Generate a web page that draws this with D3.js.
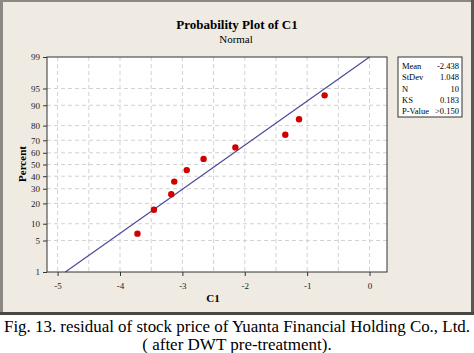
<!DOCTYPE html>
<html>
<head>
<meta charset="utf-8">
<script src="https://cdn.jsdelivr.net/npm/d3@7"></script>
<style>
body { margin: 0; background: #fff; }
svg { display: block; }
</style>
</head>
<body>
<svg id="chart" width="474" height="353"></svg>
<script>
// data
const c1Values = [-3.72, -3.456, -3.178, -3.13, -2.93, -2.66, -2.15, -1.35, -1.13, -0.72]
const percentTicks = [1, 5, 10, 20, 30, 40, 50, 60, 70, 80, 90, 95, 99]
const xTicks = [-5, -4, -3, -2, -1, 0]
const statLabels = ["Mean", "StDev", "N", "KS", "P-Value"]
const statValues = ["-2.438", "1.048", "10", "0.183", ">0.150"]
const fitMean = -2.438
const fitSd = 1.048

const width = 474
const height = 353
const margin = {top: 57, left: 47}

// inverse normal cdf (Acklam)
function qnorm(p){
    const a = [-39.69683028665376, 220.9460984245205, -275.9285104469687, 138.3577518672690, -30.66479806614716, 2.506628277459239]
    const b = [-54.47609879822406, 161.5858368580409, -155.6989798598866, 66.80131188771972, -13.28068155288572]
    const c = [-0.007784894002430293, -0.3223964580411365, -2.400758277161838, -2.549732539343734, 4.374664141464968, 2.938163982698783]
    const d = [0.007784695709041462, 0.3224671290700398, 2.445134137142996, 3.754408661907416]
    const pl = 0.02425
    let q, r
    if (p < pl) {
        q = Math.sqrt(-2 * Math.log(p))
        return (((((c[0]*q+c[1])*q+c[2])*q+c[3])*q+c[4])*q+c[5]) / ((((d[0]*q+d[1])*q+d[2])*q+d[3])*q+1)
    } else if (p <= 1 - pl) {
        q = p - 0.5; r = q*q
        return (((((a[0]*r+a[1])*r+a[2])*r+a[3])*r+a[4])*r+a[5])*q / (((((b[0]*r+b[1])*r+b[2])*r+b[3])*r+b[4])*r+1)
    } else {
        q = Math.sqrt(-2 * Math.log(1 - p))
        return -(((((c[0]*q+c[1])*q+c[2])*q+c[3])*q+c[4])*q+c[5]) / ((((d[0]*q+d[1])*q+d[2])*q+d[3])*q+1)
    }
}

const n = c1Values.length
const percents = c1Values.map((v, i) => (i + 1 - 0.3) / (n + 0.4) * 100)

const svg = d3.select("#chart")

// panel background + borders
svg.append("rect").attr("x", 0).attr("y", 0).attr("width", width).attr("height", 315).attr("fill", "#efebe2")
svg.append("rect").attr("x", 0).attr("y", 0).attr("width", 3).attr("height", 315).attr("fill", "#8c8884")
svg.append("rect").attr("x", 0).attr("y", 0).attr("width", width).attr("height", 2).attr("fill", "#8c8884")
svg.append("rect").attr("x", 471).attr("y", 0).attr("width", 3).attr("height", 315).attr("fill", "#5a5652")
svg.append("rect").attr("x", 0).attr("y", 312).attr("width", width).attr("height", 3).attr("fill", "#4a4642")

const g = svg.append("g").attr("transform", "translate(" + margin.left + "," + margin.top + ")")

const x = d3.scaleLinear().domain([-5.17, 0.28]).range([0, 340])
const zTop = qnorm(0.99)
const yz = d3.scaleLinear().domain([-zTop, zTop]).range([215, 0])
const y = p => yz(qnorm(p / 100))

g.append("rect").attr("width", 340).attr("height", 215).attr("fill", "#fff")

// grid
g.append("g").selectAll("line")
    .data(d3.range(-5, 0.01, 0.5))
    .enter().append("line")
    .attr("x1", d => x(d)).attr("x2", d => x(d))
    .attr("y1", 0).attr("y2", 215)
    .attr("stroke", "#d2d2d2").attr("stroke-dasharray", "4,3")
g.append("g").selectAll("line")
    .data(percentTicks.slice(1, -1))
    .enter().append("line")
    .attr("x1", 0).attr("x2", 340)
    .attr("y1", d => y(d)).attr("y2", d => y(d))
    .attr("stroke", "#d2d2d2").attr("stroke-dasharray", "4,3")

// fitted line
const pLine = [1, 99]
g.append("line")
    .attr("x1", x(fitMean + qnorm(0.01) * fitSd)).attr("y1", y(pLine[0]))
    .attr("x2", x(fitMean + qnorm(0.99) * fitSd)).attr("y2", y(pLine[1]))
    .attr("stroke", "#4a4a9c").attr("stroke-width", 1.2)

// points
g.append("g").selectAll("circle")
    .data(d3.zip(c1Values, percents))
    .enter().append("circle")
    .attr("cx", d => x(d[0]))
    .attr("cy", d => y(d[1]))
    .attr("r", 3.2)
    .attr("fill", "#d00000")

g.append("rect").attr("width", 340).attr("height", 215).attr("fill", "none").attr("stroke", "#333").attr("stroke-width", 1)

// axes
const xAxis = g.append("g").attr("transform", "translate(0,215)")
    .call(d3.axisBottom(x).tickValues(xTicks).tickSize(4).tickFormat(d => d))
const yAxis = g.append("g")
    .call(d3.axisLeft(yz).tickValues(percentTicks.map(p => qnorm(p / 100))).tickSize(4)
        .tickFormat((d, i) => percentTicks[i]))
;[xAxis, yAxis].forEach(a => {
    a.select(".domain").remove()
    a.selectAll("line").attr("stroke", "#333")
    a.selectAll("text").attr("fill", "#222").style("font-family", "Liberation Serif, serif").style("font-size", "9px")
})
xAxis.selectAll("text").attr("dy", "1.1em")

// titles
svg.append("text").attr("x", 237).attr("y", 29).attr("text-anchor", "middle")
    .style("font-family", "Liberation Serif, serif").style("font-weight", "bold").style("font-size", "13px")
    .text("Probability Plot of C1")
svg.append("text").attr("x", 236).attr("y", 43).attr("text-anchor", "middle")
    .style("font-family", "Liberation Serif, serif").style("font-size", "11px")
    .text("Normal")
svg.append("text").attr("x", 213).attr("y", 302).attr("text-anchor", "middle")
    .style("font-family", "Liberation Serif, serif").style("font-weight", "bold").style("font-size", "11px")
    .text("C1")
svg.append("text").attr("transform", "translate(26,164) rotate(-90)").attr("text-anchor", "middle")
    .style("font-family", "Liberation Serif, serif").style("font-weight", "bold").style("font-size", "11px")
    .text("Percent")

// stats box
const box = svg.append("g").attr("transform", "translate(398,57)")
box.append("rect").attr("width", 64).attr("height", 60).attr("fill", "#fff").attr("stroke", "#333")
statLabels.forEach((lab, i) => {
    box.append("text").attr("x", 4).attr("y", 12 + i * 11.3)
        .style("font-family", "Liberation Serif, serif").style("font-size", "8.5px").text(lab)
    box.append("text").attr("x", 61).attr("y", 12 + i * 11.3).attr("text-anchor", "end")
        .style("font-family", "Liberation Serif, serif").style("font-size", "8.5px").text(statValues[i])
})

// caption
svg.append("text").attr("x", 237).attr("y", 332).attr("text-anchor", "middle")
    .attr("textLength", 466).attr("lengthAdjust", "spacingAndGlyphs")
    .style("font-family", "Liberation Serif, serif").style("font-size", "16px")
    .text("Fig. 13. residual of stock price of Yuanta Financial Holding Co., Ltd.")
svg.append("text").attr("x", 237).attr("y", 350).attr("text-anchor", "middle")
    .style("font-family", "Liberation Serif, serif").style("font-size", "17px")
    .text("( after DWT pre-treatment).")
</script>
</body>
</html>
